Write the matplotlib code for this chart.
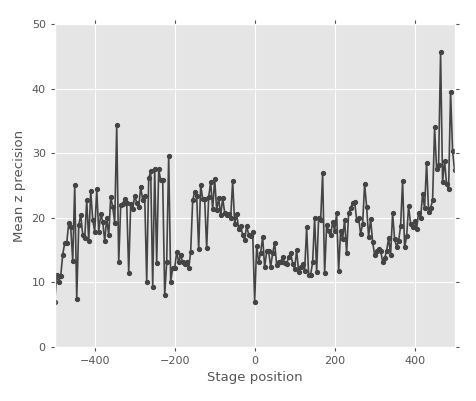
import numpy as np
import matplotlib.pyplot as plt

plt.style.use('ggplot')

# stage positions, step 5 from -500 to 500
stage = np.arange(-500, 501, 5)

# mean z precision, in segments
seg1 = [7.0, 11.1, 10.1, 11.0, 14.3, 16.1, 16.1, 19.2, 18.6, 13.3, 25.0, 7.4,
        18.8, 20.5, 17.3, 16.8, 22.7, 16.4, 24.1, 19.7, 17.8, 24.4, 17.8, 20.6,
        19.4, 16.4, 19.9, 17.3, 23.2, 21.7, 19.2, 34.3, 13.1, 21.9, 22.2, 22.9,
        22.3, 11.5, 22.1, 21.4, 23.4, 22.3, 21.6, 24.7, 22.8, 23.4, 10.1, 26.1]
seg2 = [27.2, 9.3, 27.5, 13.0, 27.5, 25.8, 25.8, 8.1, 13.1, 29.6, 10.1, 12.2,
        12.2, 14.7, 13.1, 14.2, 13.1, 12.8, 13.1, 12.2, 14.7, 22.7, 24.0, 23.4,
        15.1, 25.1, 22.9, 22.9, 15.3, 23.2, 25.5, 21.3, 26.0, 21.2, 23.0, 20.4,
        23.0, 20.8, 20.4, 20.6, 20.0, 25.7, 19.1, 20.6, 18.2, 18.7, 17.3, 16.6,
        18.7, 17.4, 17.1, 17.8]
seg3 = [7.0]
seg4 = [15.7, 13.1, 14.6, 17.0, 12.3, 14.8, 14.8, 12.4, 14.5, 16.1, 12.7, 13.2,
        13.2, 13.9, 13.0, 12.8, 13.9, 14.5, 12.9, 12.1, 15.0, 11.6, 12.4, 12.8,
        11.8, 18.5, 11.1, 11.2, 13.1, 20.0, 11.6, 20.0, 19.6, 26.9, 11.4, 18.8,
        18.0, 17.4, 19.3, 18.0, 20.7, 11.8, 18.0, 16.7, 19.7, 14.5, 20.7, 21.5,
        22.3]
seg5 = [22.5, 19.7, 20.0, 17.5, 19.0, 25.2, 21.7, 17.0, 19.8, 16.3, 14.2, 14.9,
        15.2, 14.9, 13.2, 13.7, 14.9, 16.8, 14.3, 20.7, 16.7, 15.5, 16.4, 18.7,
        25.7, 15.4, 17.1, 21.8, 19.1, 18.6, 19.5, 18.3, 20.8, 19.9, 23.7, 21.5,
        28.5, 20.9, 21.5, 22.7, 34.0, 27.6, 28.2, 45.6, 25.5, 28.8, 25.2, 24.4,
        39.5, 30.3, 27.4]
precision = seg1 + seg2 + seg3 + seg4 + seg5

fig, ax = plt.subplots(figsize=(4.76, 4.01), dpi=100)
ax.plot(stage, precision, '-o', color='#444444', lw=1.2, ms=2.8)
ax.set_xlim(-500, 500)
ax.set_ylim(0, 50)
ax.set_xticks([-400, -200, 0, 200, 400])
ax.set_yticks([0, 10, 20, 30, 40, 50])
ax.set_xlabel('Stage position', fontsize=9.5, color='#555555')
ax.set_ylabel('Mean z precision', fontsize=9.5, color='#555555')
ax.tick_params(labelsize=8, colors='#555555', top=True, right=True,
               labeltop=False, labelright=False, direction='out', length=3)
fig.subplots_adjust(left=0.115, right=0.955, top=0.94, bottom=0.135)
fig.savefig('out.png')
